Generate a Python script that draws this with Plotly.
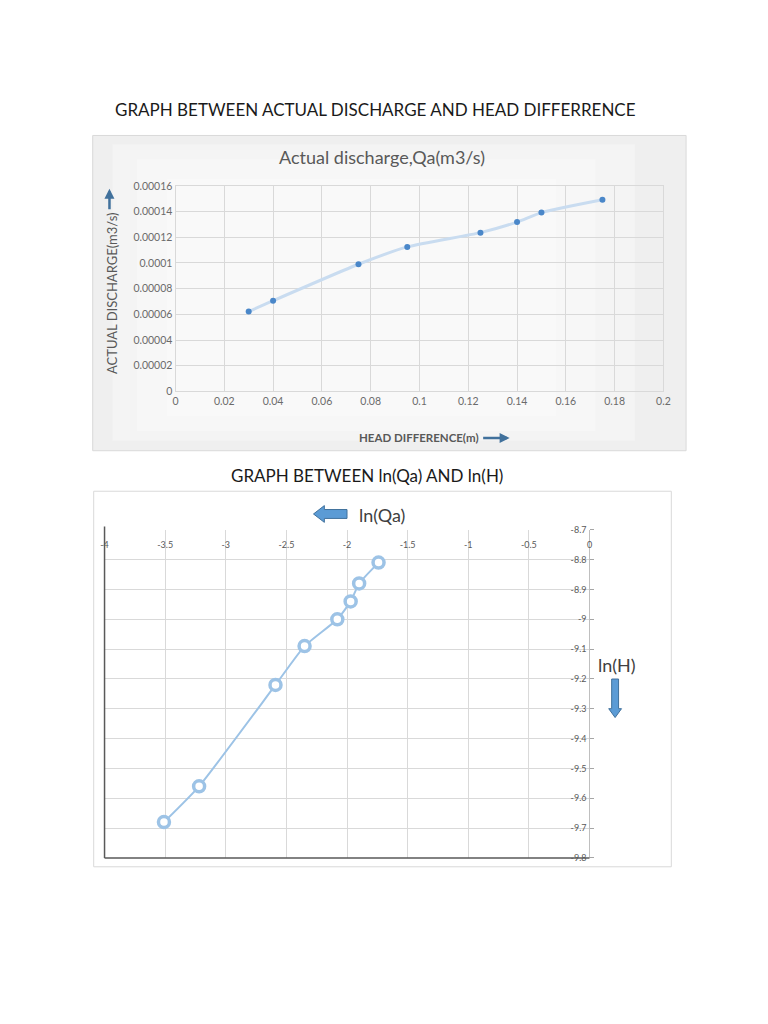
import plotly.graph_objects as go

W, H = 768, 1024

# ---- chart 1 data: actual discharge vs head difference
head_m = [0.03, 0.04, 0.075, 0.095, 0.125, 0.14, 0.15, 0.175]
qa_m3s = [0.0000622, 0.0000706, 0.0000990, 0.0001125, 0.0001236, 0.0001318, 0.0001392, 0.0001492]

x1_ticks = [0, 0.02, 0.04, 0.06, 0.08, 0.1, 0.12, 0.14, 0.16, 0.18, 0.2]
x1_text = ["0", "0.02", "0.04", "0.06", "0.08", "0.1", "0.12", "0.14", "0.16", "0.18", "0.2"]
y1_ticks = [0, 0.00002, 0.00004, 0.00006, 0.00008, 0.0001, 0.00012, 0.00014, 0.00016]
y1_text = ["0", "0.00002", "0.00004", "0.00006", "0.00008", "0.0001", "0.00012", "0.00014", "0.00016"]

# ---- chart 2 data: ln(H) vs ln(Qa)
ln_h = [-3.51, -3.22, -2.59, -2.35, -2.08, -1.97, -1.90, -1.74]
ln_qa = [-9.68, -9.56, -9.22, -9.09, -9.00, -8.94, -8.88, -8.81]

x2_ticks = [-4, -3.5, -3, -2.5, -2, -1.5, -1, -0.5, 0]
x2_text = ["-4", "-3.5", "-3", "-2.5", "-2", "-1.5", "-1", "-0.5", "0"]
y2_ticks = [-8.7, -8.8, -8.9, -9.0, -9.1, -9.2, -9.3, -9.4, -9.5, -9.6, -9.7, -9.8]
y2_text = ["-8.7", "-8.8", "-8.9", "-9", "-9.1", "-9.2", "-9.3", "-9.4", "-9.5", "-9.6", "-9.7", "-9.8"]


def px(x):   # pixel -> paper x
    return x / W


def py(y):   # pixel -> paper y
    return 1 - y / H


FONT = "Lato, 'Open Sans', sans-serif"
GREY = "#595959"
GRID = "#d9d9d9"

fig = go.Figure()

fig.add_trace(go.Scatter(
    x=head_m, y=qa_m3s, mode="lines+markers", xaxis="x", yaxis="y",
    line=dict(color="#c9dcf0", width=3, shape="spline", smoothing=0.6),
    marker=dict(color="#4a87c9", size=6),
    showlegend=False,
))
fig.add_trace(go.Scatter(
    x=ln_h, y=ln_qa, mode="lines+markers", xaxis="x2", yaxis="y2",
    line=dict(color="#9dc3e6", width=2, shape="spline", smoothing=0.5),
    marker=dict(color="white", size=11, line=dict(color="#9dc3e6", width=3.5)),
    showlegend=False,
))
# invisible copy so the label-only overlay axes get drawn
fig.add_trace(go.Scatter(
    x=ln_h, y=ln_qa, mode="markers", xaxis="x3", yaxis="y3",
    marker=dict(opacity=0), hoverinfo="skip", showlegend=False,
))

tickfont = dict(family=FONT, size=10.5, color="#6b6b6b")
x2_dom = [px(102), px(594)]
y2_dom = [py(862), py(530)]

fig.update_layout(
    width=W, height=H,
    margin=dict(l=0, r=0, t=0, b=0),
    paper_bgcolor="white", plot_bgcolor="rgba(0,0,0,0)",
    font=dict(family=FONT),
    xaxis=dict(domain=[px(174), px(669)], anchor="y", range=[0, 0.2],
               tickvals=x1_ticks, ticktext=x1_text, tickfont=tickfont,
               showgrid=True, gridcolor=GRID, zeroline=False,
               showline=True, linecolor=GRID, mirror=True, ticks="", fixedrange=True),
    yaxis=dict(domain=[py(390), py(182)], anchor="x", range=[0, 0.00016],
               tickvals=y1_ticks, ticktext=y1_text, tickfont=tickfont,
               showgrid=True, gridcolor=GRID, zeroline=False,
               showline=True, linecolor=GRID, mirror=True, ticks="", fixedrange=True),
    # chart 2: grid axes
    xaxis2=dict(domain=x2_dom, anchor="y2", range=[-4, 0], side="top",
                tickvals=x2_ticks, showticklabels=False, ticks="",
                showgrid=True, gridcolor=GRID, zeroline=False, showline=False, fixedrange=True),
    yaxis2=dict(domain=y2_dom, anchor="x2", range=[-9.8, -8.7], side="right",
                tickvals=y2_ticks, showticklabels=False,
                ticks="outside", ticklen=4, tickcolor="#a6a6a6",
                showgrid=True, gridcolor=GRID, zeroline=False,
                showline=True, linecolor="#bfbfbf", fixedrange=True),
    # chart 2: label-only axes placed inside the plot area
    xaxis3=dict(overlaying="x2", anchor="free", position=py(538), side="bottom",
                range=[-4, 0], tickvals=x2_ticks, ticktext=x2_text,
                tickfont=dict(family=FONT, size=9, color=GREY),
                ticks="", showgrid=False, zeroline=False, showline=False, fixedrange=True),
    yaxis3=dict(overlaying="y2", anchor="free", position=px(591), side="left",
                range=[-9.8, -8.7], tickvals=y2_ticks, ticktext=y2_text,
                tickfont=dict(family=FONT, size=9, color=GREY),
                ticks="", showgrid=False, zeroline=False, showline=False, fixedrange=True),
)

shapes = [
    # chart 1 frame, light grey fading to white toward the middle
    dict(type="rect", xref="paper", yref="paper", x0=px(90), x1=px(692), y0=py(450), y1=py(131),
         fillcolor="#efefef", line=dict(color="#d9d9d9", width=1), layer="below"),
]
for i, (l, r, t, b) in enumerate([(110, 640, 140, 440), (135, 600, 155, 430), (165, 560, 175, 415)]):
    shapes.append(dict(type="rect", xref="paper", yref="paper",
                       x0=px(l), x1=px(r), y0=py(b), y1=py(t),
                       fillcolor="white", opacity=0.3, line=dict(width=0), layer="below"))
shapes += [
    # chart 2 frame
    dict(type="rect", xref="paper", yref="paper", x0=px(91), x1=px(677), y0=py(871), y1=py(491),
         fillcolor="white", line=dict(color="#d9d9d9", width=1), layer="below"),
    # chart 2 dark left and bottom axis lines
    dict(type="line", xref="x2 domain", yref="y2 domain", x0=0, x1=0, y0=0, y1=1.01,
         line=dict(color="#595959", width=1.5)),
    dict(type="line", xref="x2 domain", yref="y2 domain", x0=0, x1=1, y0=0, y1=0,
         line=dict(color="#595959", width=1.5)),
]


def block_arrow(x0, y0, x1, y1, body, head, headlen):
    """Block arrow from (x0,y0) to tip (x1,y1) in pixels, horizontal or vertical."""
    if y0 == y1:
        d = 1 if x1 > x0 else -1
        hx = x1 - d * headlen
        pts = [(x0, y0 - body / 2), (hx, y0 - body / 2), (hx, y0 - head / 2), (x1, y1),
               (hx, y0 + head / 2), (hx, y0 + body / 2), (x0, y0 + body / 2)]
    else:
        d = 1 if y1 > y0 else -1
        hy = y1 - d * headlen
        pts = [(x0 - body / 2, y0), (x0 - body / 2, hy), (x0 - head / 2, hy), (x1, y1),
               (x0 + head / 2, hy), (x0 + body / 2, hy), (x0 + body / 2, y0)]
    path = "M " + " L ".join(f"{px(a):.5f},{py(b):.5f}" for a, b in pts) + " Z"
    return dict(type="path", xref="paper", yref="paper", path=path,
                fillcolor="#5b9bd5", line=dict(color="#41719c", width=1))


shapes.append(block_arrow(348, 514, 314, 514, 9, 17, 11))
shapes.append(block_arrow(620, 681, 620, 720, 7, 13, 9))
fig.update_layout(shapes=shapes)

annotations = [
    dict(text="GRAPH BETWEEN ACTUAL DISCHARGE AND HEAD DIFFERRENCE", x=px(377), y=py(105),
         font=dict(size=17, color="#1a1a1a")),
    dict(text="Actual discharge,Qa(m3/s)", x=px(383), y=py(153),
         font=dict(size=18, color=GREY)),
    dict(text="ACTUAL DISCHARGE(m3/s)", x=px(109), y=py(290), textangle=-90,
         font=dict(size=13, color=GREY)),
    dict(text="<b>HEAD DIFFERENCE(m)</b>", x=px(421), y=py(437),
         font=dict(size=11.5, color=GREY)),
    dict(text="GRAPH BETWEEN ln(Qa) AND ln(H)", x=px(368), y=py(475),
         font=dict(size=17, color="#1a1a1a")),
    dict(text="ln(Qa)", x=px(383), y=py(515), font=dict(size=18, color="#404040")),
    dict(text="ln(H)", x=px(622), y=py(667), font=dict(size=18, color="#404040")),
    # small line arrows on chart 1 axis titles
    dict(text="", x=px(107), y=py(185), ax=0, ay=22, showarrow=True, arrowhead=2,
         arrowsize=0.8, arrowwidth=2.5, arrowcolor="#41719c"),
    dict(text="", x=px(513), y=py(437), ax=-28, ay=0, showarrow=True, arrowhead=2,
         arrowsize=0.8, arrowwidth=2.5, arrowcolor="#41719c"),
]
for a in annotations:
    a.setdefault("xref", "paper")
    a.setdefault("yref", "paper")
    a.setdefault("showarrow", False)
    a.setdefault("xanchor", "center")
    a.setdefault("yanchor", "middle")
fig.update_layout(annotations=annotations)

fig.write_html("out.html", config={"displayModeBar": False},
               post_script="document.body.style.margin='0';")
